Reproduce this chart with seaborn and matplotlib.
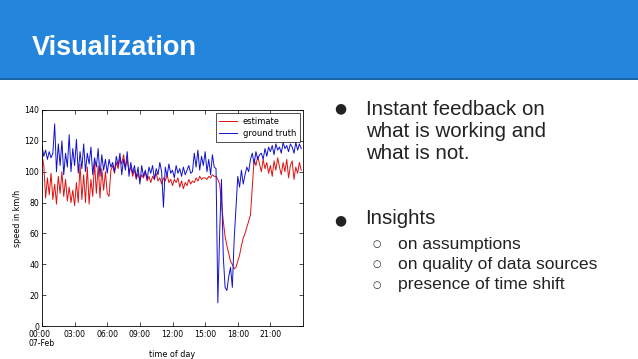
import numpy as np
import pandas as pd
import matplotlib
matplotlib.use('Agg')
import matplotlib.pyplot as plt
import seaborn as sns
from matplotlib.patches import Rectangle

# speed per 10 minutes, one row per hour
estimate = [
    111, 104, 83, 96, 85, 99,
    82, 92, 79, 97, 86, 100,
    84, 95, 81, 90, 80, 88,
    78, 93, 80, 105, 82, 98,
    80, 103, 79, 95, 84, 106,
    86, 104, 83, 102, 88, 100,
    86, 84, 101, 104, 99, 106,
    102, 109, 105, 111, 103, 108,
    100, 103, 97, 101, 95, 99,
    94, 98, 96, 100, 94, 97,
    93, 97, 95, 99, 94, 96,
    92, 96, 94, 98, 93, 95,
    91, 95, 93, 96, 90, 94,
    89, 93, 91, 95, 92, 94,
    93, 96, 94, 97, 95, 96,
    96, 95, 97, 96, 98, 97,
    97, 95, 92, 80, 68, 58,
    52, 47, 42, 40, 37, 38,
    42, 46, 52, 57, 60, 64,
    68, 72, 90, 108, 104, 110,
    105, 100, 108, 102, 106, 99,
    104, 97, 107, 101, 109, 103,
    98, 106, 100, 108, 96, 104,
    107, 95, 103, 99, 106, 101,
]
ground_truth = [
    117, 110, 114, 108, 113, 109,
    112, 131, 100, 118, 104, 120,
    98, 112, 103, 124, 100, 115,
    104, 121, 99, 113, 102, 118,
    100, 112, 105, 116, 98, 109,
    103, 115, 97, 111, 101, 108,
    99, 108, 103, 106, 100, 110,
    104, 112, 98, 108, 101, 113,
    97, 106, 99, 104, 96, 103,
    92, 104, 97, 101, 95, 103,
    99, 104, 95, 102, 98, 106,
    100, 77, 103, 97, 105, 99,
    101, 96, 104, 99, 102, 97,
    103, 98, 101, 104, 99, 100,
    112, 103, 114, 101, 110, 104,
    113, 100, 108, 98, 111, 103,
    102, 15, 60, 95, 45, 25,
    23, 32, 38, 25, 56, 77,
    97, 90, 101, 92, 98, 103,
    100, 108, 112, 105, 113, 108,
    111, 112, 108, 115, 110, 116,
    113, 117, 111, 118, 114, 116,
    112, 119, 115, 117, 113, 118,
    116, 112, 119, 114, 118, 115,
]
tick_labels = ['00:00\n07-Feb', '03:00', '06:00', '09:00', '12:00', '15:00', '18:00', '21:00']
bullets = ['Instant feedback on\nwhat is working and\nwhat is not.', 'Insights']
sub_bullets = ['on assumptions', 'on quality of data sources', 'presence of time shift']

times = pd.date_range('2014-02-07 00:00', periods=len(estimate), freq='10min')
df = pd.DataFrame({'time': np.concatenate([times, times]),
                   'speed': estimate + ground_truth,
                   'series': ['estimate'] * len(estimate) + ['ground truth'] * len(ground_truth)})

fig = plt.figure(figsize=(6.38, 3.59), dpi=100)
fig.patch.set_facecolor('white')

# slide header
fig.patches.append(Rectangle((0, 0.783), 1, 0.217, transform=fig.transFigure,
                             facecolor='#2385db', edgecolor='none', zorder=0))
fig.patches.append(Rectangle((0, 0.777), 1, 0.007, transform=fig.transFigure,
                             facecolor='#1a64a8', edgecolor='none', zorder=0))
fig.text(0.05, 0.865, 'Visualization', color='white', fontsize=19.5, fontweight='bold',
         family='Liberation Sans', va='center', ha='left')

ax = fig.add_axes([0.0658, 0.0919, 0.4092, 0.6017])
sns.lineplot(data=df, x='time', y='speed', hue='series', palette=['#e01010', '#1010d0'],
             linewidth=0.7, ax=ax)
ax.set_ylim(0, 140)
ax.set_xlim(times[0], times[0] + pd.Timedelta(hours=24))
ax.set_yticks(range(0, 141, 20))
ax.set_xticks(pd.date_range(times[0], periods=len(tick_labels), freq='3h'))
ax.set_xticklabels(tick_labels, ha='center', multialignment='left', linespacing=1.0)
ax.tick_params(direction='in', length=3, width=0.5, labelsize=5.6, top=True, right=True, pad=2)
ax.tick_params(axis='x', pad=3)
ax.set_xlabel('time of day', fontsize=5.8, labelpad=1)
ax.set_ylabel('speed in km/h', fontsize=5.8, labelpad=2)
for s in ax.spines.values():
    s.set_linewidth(0.6)
    s.set_color('black')
leg = ax.legend(loc='upper right', fontsize=6, handlelength=2.1, frameon=True,
                fancybox=False, borderaxespad=0.4, labelspacing=0.35, borderpad=0.45,
                handletextpad=0.7)
leg.get_frame().set_edgecolor('black')
leg.get_frame().set_linewidth(0.6)

# bullet text
tc = '#222222'
fig.text(0.533, 1 - 108 / 359, '●', fontsize=10, color=tc, va='center', ha='center', family='DejaVu Sans')
fig.text(0.573, 1 - 100 / 359, bullets[0], fontsize=14.8, color=tc, va='top', ha='left',
         family='Liberation Sans', linespacing=1.2)
fig.text(0.533, 1 - 220 / 359, '●', fontsize=10, color=tc, va='center', ha='center', family='DejaVu Sans')
fig.text(0.573, 1 - 209 / 359, bullets[1], fontsize=14.8, color=tc, va='top', ha='left',
         family='Liberation Sans')
for i, t in enumerate(sub_bullets):
    y = 1 - (244 + i * 20.5) / 359
    fig.text(0.590, y, '○', fontsize=7, color=tc, va='center', ha='center', family='DejaVu Sans')
    fig.text(0.624, y, t, fontsize=12.6, color=tc, va='center', ha='left', family='Liberation Sans')

fig.savefig('out.png', dpi=100)
